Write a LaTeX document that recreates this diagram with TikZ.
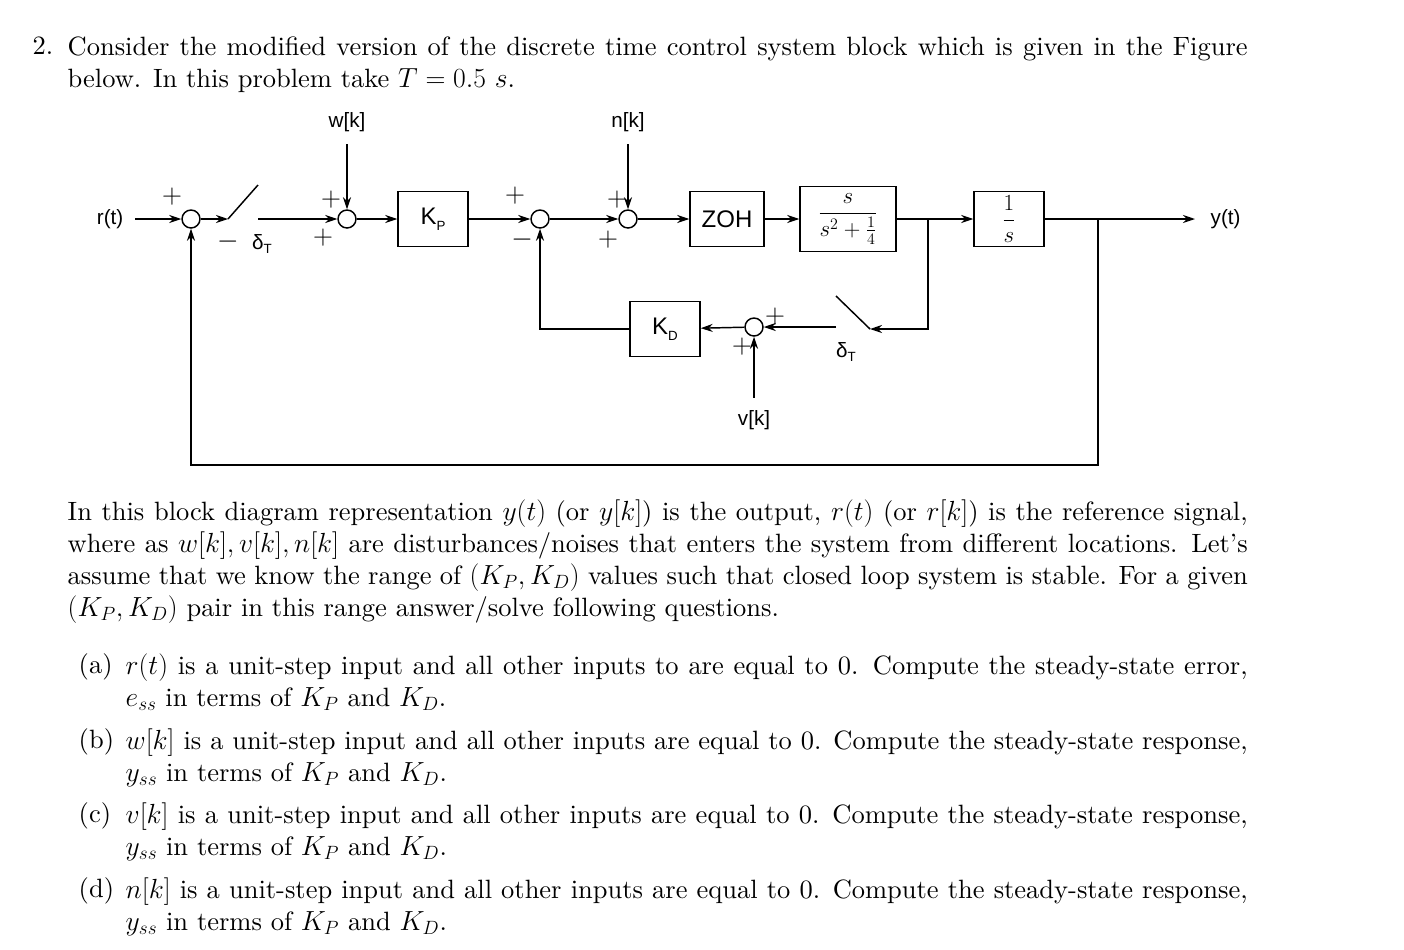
\documentclass[tikz,border=0pt]{standalone}
\usepackage{amsmath}
\usepackage{fontspec}
\setmainfont{lmroman10-regular.otf}[ItalicFont=lmroman10-italic.otf,BoldFont=lmroman10-bold.otf]
\setsansfont{Liberation Sans}
\usetikzlibrary{arrows.meta}
\newcommand{\lowsub}[1]{\raisebox{-0.45ex}{\fontsize{10}{10}\selectfont #1}}
\begin{document}
\begin{tikzpicture}[x=0.75pt,y=-0.75pt,
  line width=1.1pt,
  >={Stealth[length=9pt,width=6pt]},
  blk/.style={draw,line width=1.1pt,minimum width=#1*0.75pt,minimum height=41pt,inner sep=0pt,font=\sffamily\fontsize{18}{20}\selectfont},
  sum/.style={draw,circle,line width=1.1pt,minimum size=13.5pt,inner sep=0pt},
  lab/.style={font=\sffamily\fontsize{15.5}{18}\selectfont,inner sep=0pt},
  sgn/.style={font=\fontsize{20}{20}\selectfont,inner sep=0pt},
  body/.style={anchor=north west,inner sep=0pt,align=justify,font=\fontsize{19.86}{24}\selectfont}]
\useasboundingbox (0,0) rectangle (1404,950);

% text
\node[body] (num) at (32,36) {2.};
\node[body,text width=885pt] (intro) at (67,36) {Consider the modified version of the discrete time control system block which is given in the Figure\linebreak below. In this problem take $T=0.5\ s$.};
\node[body,text width=885pt] (para) at (67,499) {In this block diagram representation $y(t)$ (or $y[k]$) is the output, $r(t)$ (or $r[k]$) is the reference signal,\linebreak where as $w[k],v[k],n[k]$ are disturbances/noises that enters the system from different locations. Let's\linebreak assume that we know the range of $(K_P,K_D)$ values such that closed loop system is stable. For a given\linebreak $(K_P,K_D)$ pair in this range answer/solve following questions.};
\node[body] (la) at (78,653) {(a)};
\node[body,text width=841.5pt] (ia) at (125,653) {$r(t)$ is a unit-step input and all other inputs to are equal to 0. Compute the steady-state error,\linebreak $e_{ss}$ in terms of $K_P$ and $K_D$.};
\node[body] (lb) at (78,728) {(b)};
\node[body,text width=841.5pt] (ib) at (125,728) {$w[k]$ is a unit-step input and all other inputs are equal to 0. Compute the steady-state response,\linebreak $y_{ss}$ in terms of $K_P$ and $K_D$.};
\node[body] (lc) at (78,802) {(c)};
\node[body,text width=841.5pt] (ic) at (125,802) {$v[k]$ is a unit-step input and all other inputs are equal to 0. Compute the steady-state response,\linebreak $y_{ss}$ in terms of $K_P$ and $K_D$.};
\node[body] (ld) at (78,877) {(d)};
\node[body,text width=841.5pt] (id) at (125,877) {$n[k]$ is a unit-step input and all other inputs are equal to 0. Compute the steady-state response,\linebreak $y_{ss}$ in terms of $K_P$ and $K_D$.};

% diagram nodes
\node[lab,anchor=east] (r) at (124,219) {r(t)};
\coordinate (r0) at (135,219);
\node[sum] (s1) at (191,219) {};
\coordinate (sw1a) at (228,219);
\coordinate (sw1b) at (258,185);
\coordinate (sw1c) at (258,219);
\node[sum] (s2) at (347,219) {};
\node[lab] (w) at (347,122) {w[k]};
\node[blk=70] (kp) at (433,219) {K\lowsub{P}};
\node[sum] (s3) at (540,219) {};
\node[sum] (s4) at (628,219) {};
\node[lab] (n) at (628,122) {n[k]};
\node[blk=74] (zoh) at (727,219) {ZOH};
\node[blk=96,minimum height=49pt] (g) at (848,219) {$\dfrac{s}{s^2+\frac14}$};
\node[blk=70] (int) at (1009,219) {$\dfrac{1}{\rule{0pt}{0pt}s}$};
\coordinate (y0) at (1195,219);
\node[lab,anchor=west] (y) at (1210,219) {y(t)};
\node[blk=70] (kd) at (665,329) {K\lowsub{D}};
\node[sum] (s5) at (754,327) {};
\node[lab] (v) at (754,420) {v[k]};
\coordinate (sw2a) at (870,329);
\coordinate (sw2b) at (836,296);
\coordinate (sw2c) at (836,327);
\coordinate (b1) at (928,219);
\coordinate (b2) at (1098,219);

% signs and sampler labels
\node[sgn] at (172,197) {$+$};
\node[sgn] at (228,242) {$-$};
\node[lab] at (262,244) {δ\lowsub{T}};
\node[sgn] at (331,200) {$+$};
\node[sgn] at (323,238) {$+$};
\node[sgn] at (515,196) {$+$};
\node[sgn] at (522,240) {$-$};
\node[sgn] at (617,200) {$+$};
\node[sgn] at (608,240) {$+$};
\node[sgn] at (775,317) {$+$};
\node[sgn] at (742,347) {$+$};
\node[lab] at (846,352) {δ\lowsub{T}};

% connectors
\draw[->] (r0) -- (s1);
\draw[->] (s1) -- (sw1a);
\draw (sw1a) -- (sw1b);
\draw[->] (sw1c) -- (s2);
\draw[->] (w.south) ++(0,12) -- (s2);
\draw[->] (s2) -- (kp);
\draw[->] (kp) -- (s3);
\draw[->] (s3) -- (s4);
\draw[->] (n.south) ++(0,12) -- (s4);
\draw[->] (s4) -- (zoh);
\draw[->] (zoh) -- (g);
\draw[->] (g) -- (int);
\draw[->] (int) -- (y0);
\draw[->] (b1) |- (sw2a);
\draw (sw2a) -- (sw2b);
\draw[->] (sw2c) -- (s5);
\draw[->] (v.north) ++(0,-12) -- (s5);
\draw[->] (s5) -- (kd);
\draw[->] (kd.west) -| (s3);
\draw[->] (b2) -- (1098,465) -| (s1);
\end{tikzpicture}
\end{document}
